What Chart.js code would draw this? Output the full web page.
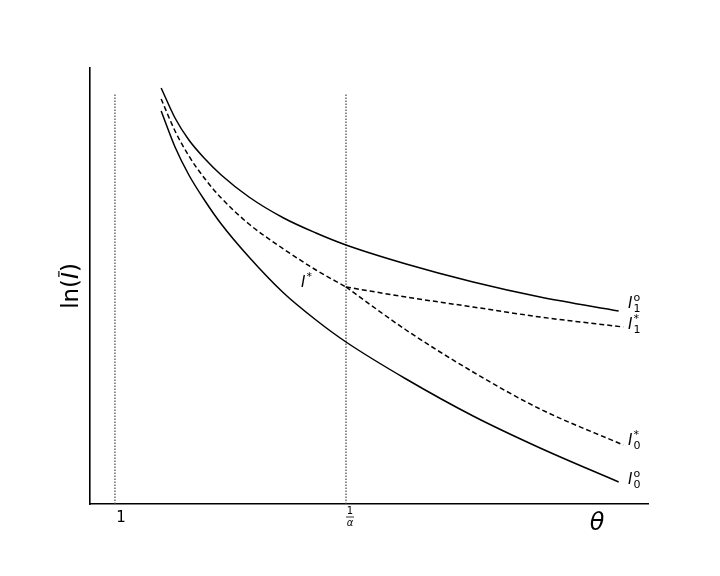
<!DOCTYPE html>
<html>
<head>
<meta charset="utf-8">
<script src="https://cdn.jsdelivr.net/npm/chart.js@4"></script>
<style>
    html, body { margin: 0; padding: 0; background: #fff; }
    #wrap { width: 720px; height: 576px; }
</style>
</head>
<body>
<div id="wrap"><canvas id="chart" width="720" height="576"></canvas></div>
<script>
// theta grid for the left branch (before 1/alpha) and the right branch
const thetaLeft = [1.2, 1.26, 1.32, 1.39, 1.46, 1.58, 1.73, 1.87, 2.0];
const thetaRight = [2.0, 2.26, 2.55, 2.84, 3.18];
const thetaStar = [2.0, 2.26, 2.55, 2.84, 3.2];

// ln(I) values
const upperSolidLeft = [4.16, 3.86, 3.64, 3.45, 3.29, 3.07, 2.86, 2.71, 2.59];
const upperSolidRight = [2.59, 2.40, 2.22, 2.07, 1.93];
const dashedLeft = [4.05, 3.73, 3.48, 3.25, 3.06, 2.80, 2.55, 2.34, 2.17];
const dashedI1Right = [2.17, 2.07, 1.97, 1.87, 1.77];
const dashedI0Right = [2.17, 1.74, 1.32, 0.95, 0.59];
const lowerSolidLeft = [3.93, 3.57, 3.29, 3.03, 2.80, 2.47, 2.11, 1.84, 1.62];
const lowerSolidRight = [1.62, 1.25, 0.88, 0.56, 0.22];

// vertical reference lines at theta = 1 and theta = 1/alpha
const vLines = [1, 2];
const vLineTop = 4.11;

const xMin = 0.892, xMax = 3.307;
const yMin = 0, yMax = 4.36;

function pts(xs, ys) {
    return xs.map((x, i) => ({ x: x, y: ys[i] }));
}

function line(data, dashed) {
    return {
        data: data,
        showLine: true,
        borderColor: '#000',
        borderWidth: 1.5,
        borderDash: dashed ? [5, 3] : [],
        pointRadius: 0,
        cubicInterpolationMode: 'monotone',
        fill: false
    };
}

const datasets = [
    line(pts(thetaLeft.concat(thetaRight.slice(1)), upperSolidLeft.concat(upperSolidRight.slice(1))), false),
    line(pts(thetaLeft, dashedLeft), true),
    line(pts(thetaStar, dashedI1Right), true),
    line(pts(thetaStar, dashedI0Right), true),
    line(pts(thetaLeft.concat(thetaRight.slice(1)), lowerSolidLeft.concat(lowerSolidRight.slice(1))), false)
];
vLines.forEach(v => {
    datasets.push({
        data: [{ x: v, y: 0 }, { x: v, y: vLineTop }],
        showLine: true,
        borderColor: '#444',
        borderWidth: 1.2,
        borderDash: [1.5, 1.5],
        pointRadius: 0,
        fill: false
    });
});

const FONT = "'DejaVu Sans', sans-serif";

// italic I with optional superscript / subscript, left aligned at x, baseline y
function drawI(ctx, x, y, size, sup, sub) {
    ctx.font = 'italic ' + size + 'px ' + FONT;
    ctx.textAlign = 'left';
    ctx.textBaseline = 'alphabetic';
    ctx.fillText('I', x, y);
    const w = ctx.measureText('I').width + 1;
    const small = Math.round(size * 0.7);
    if (sup) {
        ctx.font = small + 'px ' + FONT;
        ctx.fillText(sup, x + w, y - size * 0.45);
    }
    if (sub) {
        ctx.font = small + 'px ' + FONT;
        ctx.fillText(sub, x + w, y + size * 0.25);
    }
}

const labelsPlugin = {
    id: 'labels',
    afterDraw(chart) {
        const ctx = chart.ctx;
        const xs = chart.scales.x;
        ctx.save();
        ctx.fillStyle = '#000';
        ctx.strokeStyle = '#000';

        // tick label "1"
        ctx.font = '15px ' + FONT;
        ctx.textAlign = 'center';
        ctx.textBaseline = 'middle';
        ctx.fillText('1', xs.getPixelForValue(1) + 6, 518);

        // tick label 1/alpha as a fraction
        const fx = xs.getPixelForValue(2) + 4;
        ctx.font = '10px ' + FONT;
        ctx.fillText('1', fx, 511);
        ctx.beginPath();
        ctx.lineWidth = 0.8;
        ctx.moveTo(fx - 4, 517);
        ctx.lineTo(fx + 4, 517);
        ctx.stroke();
        ctx.font = 'italic 10px ' + FONT;
        ctx.fillText('\u03b1', fx, 523);

        // x axis label
        ctx.font = 'italic 24px ' + FONT;
        ctx.fillText('\u03b8', 597, 524);

        // y axis label ln(I bar)
        ctx.save();
        ctx.translate(78, 286);
        ctx.rotate(-Math.PI / 2);
        ctx.textBaseline = 'alphabetic';
        ctx.textAlign = 'left';
        const sz = 23;
        ctx.font = sz + 'px ' + FONT;
        const a = ctx.measureText('ln(').width;
        ctx.font = 'italic ' + sz + 'px ' + FONT;
        const b = ctx.measureText('I').width;
        ctx.font = sz + 'px ' + FONT;
        const c = ctx.measureText(')').width;
        let x0 = -(a + b + c) / 2;
        ctx.fillText('ln(', x0, 0);
        ctx.font = 'italic ' + sz + 'px ' + FONT;
        ctx.fillText('I', x0 + a, 0);
        ctx.beginPath();
        ctx.lineWidth = 1.2;
        ctx.moveTo(x0 + a + 2, -sz * 0.83);
        ctx.lineTo(x0 + a + b + 1, -sz * 0.83);
        ctx.stroke();
        ctx.font = sz + 'px ' + FONT;
        ctx.fillText(')', x0 + a + b, 0);
        ctx.restore();

        // curve labels
        const lx = 628;
        drawI(ctx, lx, 308, 15, 'o', '1');
        drawI(ctx, lx, 329, 15, '*', '1');
        drawI(ctx, lx, 445, 15, '*', '0');
        drawI(ctx, lx, 484, 15, 'o', '0');
        drawI(ctx, 301, 287, 15, '*', null);

        ctx.restore();
    }
};

new Chart(document.getElementById('chart').getContext('2d'), {
    type: 'scatter',
    data: { datasets: datasets },
    options: {
        responsive: false,
        animation: false,
        layout: { padding: { left: 90, right: 72, top: 68, bottom: 72 } },
        plugins: { legend: { display: false }, tooltip: { enabled: false } },
        scales: {
            x: {
                type: 'linear', min: xMin, max: xMax,
                ticks: { display: false },
                grid: { display: false, drawTicks: false },
                border: { display: true, color: '#000', width: 1.6 }
            },
            y: {
                type: 'linear', min: yMin, max: yMax,
                ticks: { display: false },
                grid: { display: false, drawTicks: false },
                border: { display: true, color: '#000', width: 1.6 }
            }
        }
    },
    plugins: [labelsPlugin]
});
</script>
</body>
</html>
